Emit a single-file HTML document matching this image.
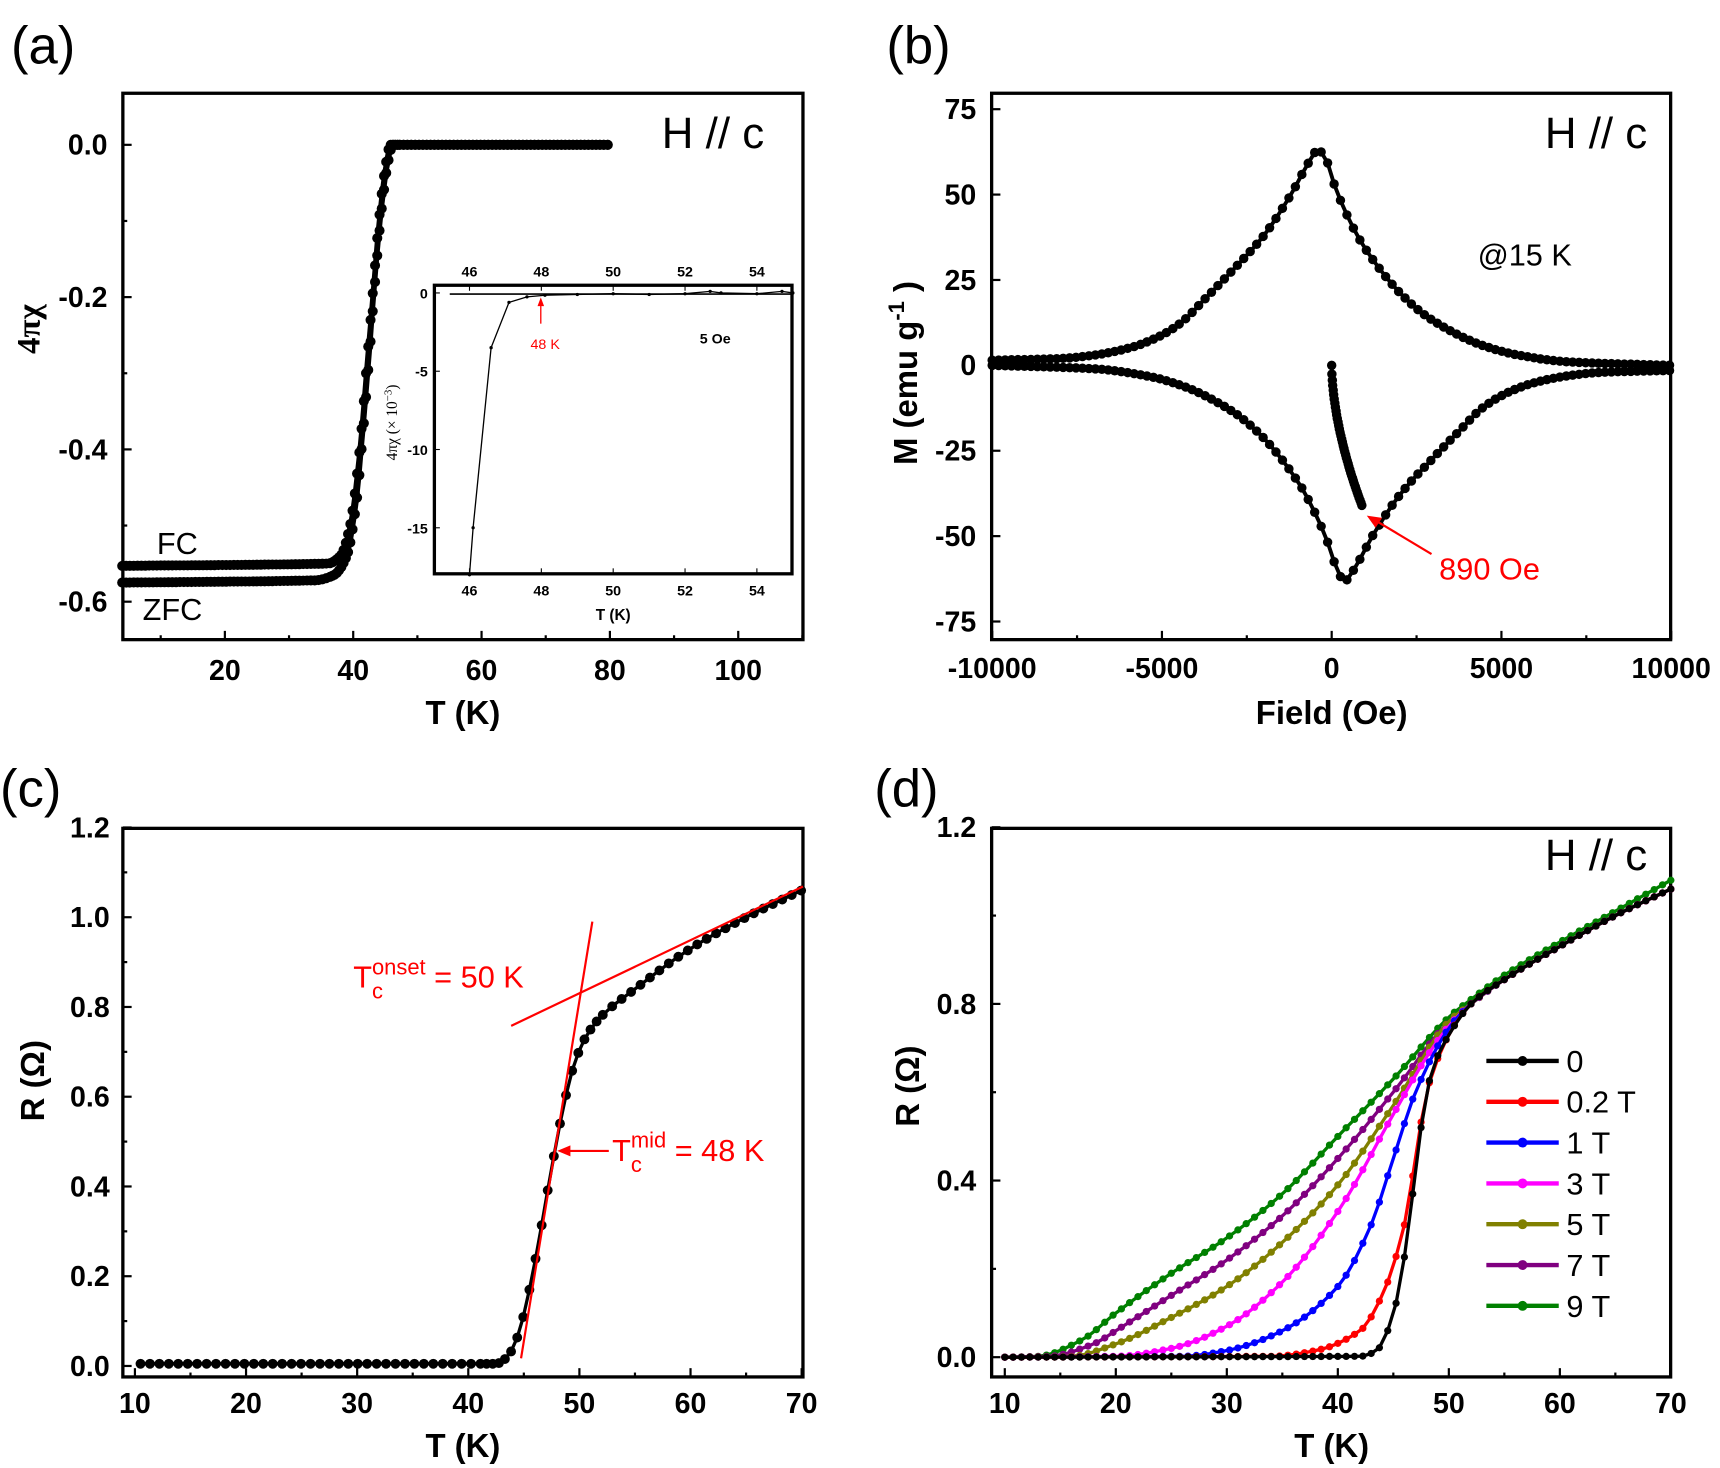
<!DOCTYPE html>
<html><head><meta charset="utf-8"><style>
html,body{margin:0;padding:0;background:#fff;}
svg{display:block;}
text{font-family:"Liberation Sans",sans-serif;}
.tk{font-size:26px;font-weight:bold;}
.ti{font-size:30px;font-weight:bold;}
.pl{font-size:48px;}
</style></head><body>
<svg id="s" width="1720" height="1468" viewBox="0 0 1568 1338" preserveAspectRatio="none" xmlns="http://www.w3.org/2000/svg"></svg>
<script>
const S=document.getElementById('s');let h='';
function interp(pts,x){const n=pts.length;if(x<=pts[0][0])return pts[0][1];if(x>=pts[n-1][0])return pts[n-1][1];
const m=[];for(let i=0;i<n;i++){let a=i>0?(pts[i][1]-pts[i-1][1])/(pts[i][0]-pts[i-1][0]):null,b=i<n-1?(pts[i+1][1]-pts[i][1])/(pts[i+1][0]-pts[i][0]):null;
if(a===null)m.push(b);else if(b===null)m.push(a);else if(a*b<=0)m.push(0);else m.push(2/(1/a+1/b));}
for(let i=1;i<n;i++){if(x<=pts[i][0]){const x0=pts[i-1][0],x1=pts[i][0],hh=x1-x0,t=(x-x0)/hh,y0=pts[i-1][1],y1=pts[i][1];
const h00=2*t*t*t-3*t*t+1,h10=t*t*t-2*t*t+t,h01=-2*t*t*t+3*t*t,h11=t*t*t-t*t;return h00*y0+h10*hh*m[i-1]+h01*y1+h11*hh*m[i];}}return pts[n-1][1];}
function lin(pts,x){if(x<=pts[0][0])return pts[0][1];for(let i=1;i<pts.length;i++){if(x<=pts[i][0]){const a=pts[i-1],b=pts[i];return a[1]+(b[1]-a[1])*(x-a[0])/(b[0]-a[0]);}}return pts[pts.length-1][1];}
function T(x,y,s,cls,anchor,extra){h+=`<text x="${x}" y="${y}" class="${cls||''}" text-anchor="${anchor||'start'}" ${extra||''}>${s}</text>`;}
function frame(x0,y0,x1,y1){h+=`<rect x="${x0}" y="${y0}" width="${x1-x0}" height="${y1-y0}" fill="none" stroke="#000" stroke-width="3"/>`;}
function series(pts,col,r,lw){let d='';pts.forEach((p,i)=>d+=(i?'L':'M')+p[0].toFixed(1)+' '+p[1].toFixed(1));h+=`<path d="${d}" fill="none" stroke="${col}" stroke-width="${lw}"/>`;if(r)pts.forEach(p=>h+=`<circle cx="${p[0].toFixed(1)}" cy="${p[1].toFixed(1)}" r="${r}" fill="${col}"/>`);}
// ---------- (a)
{const X=t=>88+5.85*t,Y=v=>132-694*v;frame(112,85,732,583);
for(let t=20;t<=100;t+=20){h+=`<line x1="${X(t)}" y1="583" x2="${X(t)}" y2="575" stroke="#000" stroke-width="2"/>`;T(X(t),620,t,'tk','middle');}
for(let t=10;t<=110;t+=20)h+=`<line x1="${X(t)}" y1="583" x2="${X(t)}" y2="579" stroke="#000" stroke-width="2"/>`;
[[0,'0.0'],[-0.2,'-0.2'],[-0.4,'-0.4'],[-0.6,'-0.6']].forEach(([v,s])=>{h+=`<line x1="112" y1="${Y(v)}" x2="120" y2="${Y(v)}" stroke="#000" stroke-width="2"/>`;T(98,Y(v)+9,s,'tk','end');});
[-0.1,-0.3,-0.5].forEach(v=>h+=`<line x1="112" y1="${Y(v)}" x2="116" y2="${Y(v)}" stroke="#000" stroke-width="2"/>`);
const fc=[[4,-0.553],[36,-0.55],[38,-0.54],[39.5,-0.5],[41,-0.4],[42,-0.3],[43,-0.2],[44,-0.1],[45,-0.03],[45.8,0],[80,0]];
const zfc=[[4,-0.575],[34,-0.572],[37,-0.565],[39,-0.54],[40.5,-0.47],[41.5,-0.38],[42.5,-0.28],[43.5,-0.17],[44.5,-0.08],[45.5,-0.02],[46.2,0],[80,0]];
[zfc,fc].forEach(c=>{const p=[];for(let t=4;t<=80;t+=(t>36&&t<47?0.35:0.6))p.push([X(t),Y(interp(c,t))]);series(p,'#000',4.6,4);});
T(650,135,'H // c','','middle','style="font-size:40px"');
T(143,505,'FC','','start','style="font-size:28px"');T(130,565,'ZFC','','start','style="font-size:28px"');
T(422,660,'T (K)','ti','middle');
h+=`<text transform="translate(36,300) rotate(-90)" class="ti" text-anchor="middle" style="font-family:'Liberation Serif',serif">4πχ</text>`;
T(10,58,'(a)','pl');
const x=t=>428+32.75*(t-46),y=v=>267-14.27*v;
h+=`<rect x="397" y="261" width="324" height="261" fill="#fff"/>`;frame(396,260,722,523);
for(let t=46;t<=54;t+=2){h+=`<line x1="${x(t)}" y1="523" x2="${x(t)}" y2="518" stroke="#000"/><line x1="${x(t)}" y1="260" x2="${x(t)}" y2="265" stroke="#000"/>`;T(x(t),543,t,'','middle','style="font-size:13px;font-weight:bold"');T(x(t),252,t,'','middle','style="font-size:13px;font-weight:bold"');}
[[0,'0'],[-5,'-5'],[-10,'-10'],[-15,'-15']].forEach(([v,s])=>{h+=`<line x1="396" y1="${y(v)}" x2="401" y2="${y(v)}" stroke="#000"/>`;T(390,y(v)+5,s,'','end','style="font-size:13px;font-weight:bold"');});
h+=`<line x1="410" y1="268" x2="722" y2="268" stroke="#000" stroke-width="1.5"/>`;
const ins=[[46.0,-18],[46.1,-15],[46.6,-3.5],[47.1,-0.6],[47.6,-0.25],[48.1,-0.15],[49,-0.1],[50,-0.05],[51,-0.1],[52,-0.05],[52.7,0.1],[53,0],[54,-0.05],[54.7,0.1],[55,0]];
series(ins.map(p=>[x(p[0]),y(p[1])]),'#000',1.5,1.2);
h+=`<line x1="493" y1="295" x2="493" y2="276" stroke="red" stroke-width="1.2"/><path d="M490,279 L493,271 L496,279Z" fill="red"/>`;
T(497,318,'48 K','','middle','style="font-size:13px;fill:red"');T(652,313,'5 Oe','','middle','style="font-size:13px;font-weight:bold"');
T(559,565,'T (K)','','middle','style="font-size:14px;font-weight:bold"');
h+=`<text transform="translate(362,385) rotate(-90)" text-anchor="middle" style="font-size:14px;font-family:'Liberation Serif',serif">4πχ (× 10<tspan dy="-5" font-size="10">−3</tspan><tspan dy="5">)</tspan></text>`;
}
// ---------- (b)
{const X=H=>1214+0.03095*H,Y=v=>333-3.113*v;frame(904,85,1523,583);
[[-10000,'-10000'],[-5000,'-5000'],[0,'0'],[5000,'5000'],[10000,'10000']].forEach(([v,s])=>{h+=`<line x1="${X(v)}" y1="583" x2="${X(v)}" y2="575" stroke="#000" stroke-width="2"/>`;T(X(v),618,s,'tk','middle');});
[-7500,-2500,2500,7500].forEach(v=>h+=`<line x1="${X(v)}" y1="583" x2="${X(v)}" y2="579" stroke="#000" stroke-width="2"/>`);
for(let v=-75;v<=75;v+=25){h+=`<line x1="904" y1="${Y(v)}" x2="912" y2="${Y(v)}" stroke="#000" stroke-width="2"/>`;T(890,Y(v)+9,v,'tk','end');}
const up=[[-10000,1.5],[-8000,2],[-7000,3],[-6000,5],[-5290,7.5],[-4500,12],[-3680,20],[-3000,27],[-2000,38],[-1200,50],[-700,59],[-400,63],[-150,60],[0,55],[500,43],[1000,34],[2130,20],[3000,13],[4400,6],[5500,3],[7000,1],[10000,0]];
const p1=[],p2=[];for(let H=-10000;H<=10000;H+=190){p1.push([X(H),Y(interp(up,H))]);p2.push([X(H),Y(-interp(up,-H))]);}
series(p1,'#000',4.3,3.5);series(p2,'#000',4.3,3.5);
const vir=[];for(let i=0;i<=40;i++){const H=890*Math.pow(i/40,1.3);vir.push([X(H),Y(-41*Math.pow(i/40,0.75))]);}series(vir,'#000',4.3,3.5);
h+=`<line x1="1305" y1="505" x2="1255" y2="475" stroke="red" stroke-width="2"/><path d="M1246,470 L1260,472 L1254,481Z" fill="red"/>`;
T(1312,528,'890 Oe','','start','style="font-size:28px;fill:red"');
T(1455,135,'H // c','','middle','style="font-size:40px"');T(1390,242,'@15 K','','middle','style="font-size:28px"');
T(1214,660,'Field (Oe)','ti','middle');
h+=`<text transform="translate(836,340) rotate(-90)" class="ti" text-anchor="middle">M (emu g<tspan dy="-12" font-size="20">-1</tspan><tspan dy="12"> )</tspan></text>`;
T(808,58,'(b)','pl');}
// ---------- (c)
{const X=t=>123+10.13*(t-10),Y=v=>1245-409*v;frame(112,755,732,1255);
for(let t=10;t<=70;t+=10){h+=`<line x1="${X(t)}" y1="1255" x2="${X(t)}" y2="1247" stroke="#000" stroke-width="2"/>`;T(X(t),1288,t,'tk','middle');}
for(let t=15;t<=65;t+=10)h+=`<line x1="${X(t)}" y1="1255" x2="${X(t)}" y2="1251" stroke="#000" stroke-width="2"/>`;
for(let v=0;v<=1.21;v+=0.2){h+=`<line x1="112" y1="${Y(v)}" x2="120" y2="${Y(v)}" stroke="#000" stroke-width="2"/>`;T(100,Y(v)+9,v.toFixed(1),'tk','end');}
for(let v=0.1;v<1.2;v+=0.2)h+=`<line x1="112" y1="${Y(v)}" x2="116" y2="${Y(v)}" stroke="#000" stroke-width="2"/>`;
const R=[[10,0.005],[42.5,0.005],[43.5,0.02],[44.5,0.07],[45.5,0.17],[46.5,0.3],[47.5,0.44],[48.5,0.57],[49.5,0.67],[50.5,0.73],[52,0.78],[55,0.84],[60,0.93],[65,1.0],[70,1.06]];
const p=[];for(let t=10.5;t<=70;t+=(t>41&&t<52?0.55:0.85))p.push([X(t),Y(interp(R,t))]);series(p,'#000',4.5,3);
h+=`<line x1="475" y1="1238" x2="540" y2="840" stroke="red" stroke-width="2"/><line x1="466" y1="935" x2="732" y2="808" stroke="red" stroke-width="2"/>`;
h+=`<line x1="555" y1="1049" x2="518" y2="1049" stroke="red" stroke-width="2"/><path d="M508,1049 L520,1044 L520,1054Z" fill="red"/>`;
h+=`<text x="322" y="900" style="font-size:28px;fill:red">T<tspan dy="10" font-size="20">c</tspan><tspan dx="-10" dy="-22" font-size="20">onset</tspan><tspan dy="12"> = 50 K</tspan></text>`;
h+=`<text x="558" y="1058" style="font-size:28px;fill:red">T<tspan dy="10" font-size="20">c</tspan><tspan dx="-10" dy="-22" font-size="20">mid</tspan><tspan dy="12"> = 48 K</tspan></text>`;
T(422,1328,'T (K)','ti','middle');
h+=`<text transform="translate(40,985) rotate(-90)" class="ti" text-anchor="middle">R (Ω)</text>`;
T(0,735,'(c)','pl');}
// ---------- (d)
{const X=t=>916+10.12*(t-10),Y=v=>1237-402.5*v;frame(904,755,1523,1255);
for(let t=10;t<=70;t+=10){h+=`<line x1="${X(t)}" y1="1255" x2="${X(t)}" y2="1247" stroke="#000" stroke-width="2"/>`;T(X(t),1288,t,'tk','middle');}
for(let t=15;t<=65;t+=10)h+=`<line x1="${X(t)}" y1="1255" x2="${X(t)}" y2="1251" stroke="#000" stroke-width="2"/>`;
[[0,'0.0'],[0.4,'0.4'],[0.8,'0.8'],[1.2,'1.2']].forEach(([v,s])=>{h+=`<line x1="904" y1="${Y(v)}" x2="912" y2="${Y(v)}" stroke="#000" stroke-width="2"/>`;T(890,Y(v)+9,s,'tk','end');});
[0.2,0.6,1.0].forEach(v=>h+=`<line x1="904" y1="${Y(v)}" x2="908" y2="${Y(v)}" stroke="#000" stroke-width="2"/>`);
const hi=[[52,0.80],[55,0.855],[60,0.93],[65,1.0],[70,1.06]];
const C=[
['#008000',[[10,0],[13,0.002],[17,0.04],[20,0.1],[25,0.19],[30,0.27],[35,0.37],[40,0.5],[45,0.63],[50,0.77],[52,0.81],[55,0.865],[60,0.94],[65,1.01],[70,1.08]]],
['#800080',[[10,0],[14,0.002],[18,0.03],[20,0.06],[25,0.14],[30,0.22],[35,0.32],[40,0.45],[45,0.6],[50,0.76],...hi]],
['#808000',[[10,0],[16,0.002],[20,0.03],[25,0.09],[30,0.16],[35,0.26],[40,0.39],[45,0.57],[50,0.76],...hi]],
['#ff00ff',[[10,0],[20,0.002],[25,0.02],[30,0.07],[35,0.17],[40,0.33],[45,0.55],[48,0.68],[50,0.75],...hi]],
['#0000ff',[[10,0],[26,0.002],[30,0.015],[35,0.06],[40,0.16],[43,0.3],[45,0.45],[47,0.6],[50,0.745],...hi]],
['#ff0000',[[10,0],[34,0.002],[38,0.015],[42,0.06],[44,0.14],[46,0.3],[47,0.45],[48,0.6],[50,0.73],...hi]],
['#000000',[[10,0],[42,0.002],[43.5,0.015],[44.5,0.06],[45.5,0.15],[46.5,0.32],[47.5,0.52],[48.5,0.65],[50,0.73],...hi]]];
C.forEach(([col,d])=>{const p=[];for(let t=10;t<=70;t+=0.75)p.push([X(t),Y(Math.max(0,interp(d,t)))]);series(p,col,3.3,3);});
const L=[['#000000','0'],['#ff0000','0.2 T'],['#0000ff','1 T'],['#ff00ff','3 T'],['#808000','5 T'],['#800080','7 T'],['#008000','9 T']];
L.forEach(([c,s],i)=>{const yy=967+i*37.2;h+=`<line x1="1355" y1="${yy}" x2="1421" y2="${yy}" stroke="${c}" stroke-width="4"/><circle cx="1388" cy="${yy}" r="4.5" fill="${c}"/>`;T(1428,yy+10,s,'','start','style="font-size:28px"');});
T(1455,793,'H // c','','middle','style="font-size:40px"');
T(1214,1328,'T (K)','ti','middle');
h+=`<text transform="translate(838,990) rotate(-90)" class="ti" text-anchor="middle">R (Ω)</text>`;
T(797,735,'(d)','pl');}
S.innerHTML=h;
</script>
</body></html>
